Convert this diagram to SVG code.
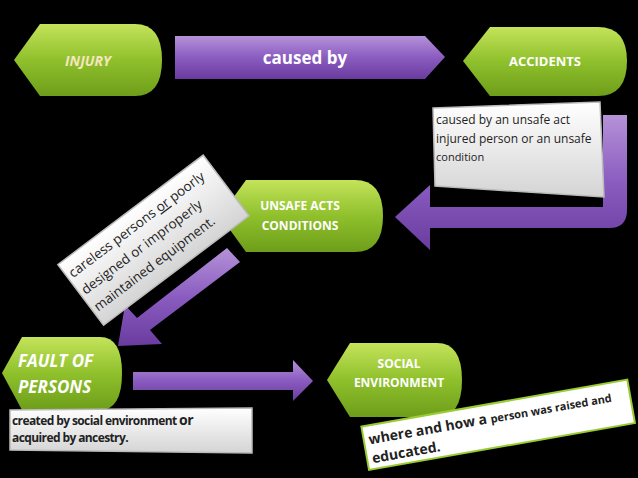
<svg xmlns="http://www.w3.org/2000/svg" width="638" height="478" viewBox="0 0 638 478">
<defs>
<linearGradient id="g" x1="0" y1="0" x2="0" y2="1"><stop offset="0" stop-color="#c4e35a"/><stop offset="0.5" stop-color="#8fc02c"/><stop offset="1" stop-color="#6e9e1a"/></linearGradient>
<linearGradient id="p" x1="0" y1="0" x2="0" y2="1"><stop offset="0" stop-color="#b592d8"/><stop offset="0.5" stop-color="#8a5cc0"/><stop offset="1" stop-color="#6a3c9f"/></linearGradient>
<linearGradient id="w" x1="0" y1="0" x2="0" y2="1"><stop offset="0" stop-color="#ffffff"/><stop offset="1" stop-color="#d4d4d4"/></linearGradient>
</defs>
<style>
.n{fill:url(#g)}
.a{fill:url(#p)}
.b{fill:url(#w);stroke:#bbb;stroke-width:1.5}
.t{font-family:"Open Sans","Liberation Sans",sans-serif;fill:#fff;font-weight:bold}
.k{font-family:"Open Sans","Liberation Sans",sans-serif;fill:#222}
</style>
<rect width="638" height="478" fill="#000"/>
<g id="connectors">
<polygon class="a" points="175,36 425,36 445,57 425,79 175,79"/>
<path class="a" d="M603,115 H627 V210 Q627,228 609,228 H430 V250 L395,217 L430,185 V207 H603 Z"/>
<polygon class="a" points="227,248 240,262 150,330 162,344 118,346 125,305 137,318"/>
<polygon class="a" points="133,372 293,372 293,360 313,381 293,401 293,390 133,390"/>
</g>
<g id="injury"><path class="n" d="M14,60 L40,24 H135 Q162,24 162,60 Q162,96 135,96 H40 Z"/><text class="t" x="88" y="66" font-size="14" font-style="italic" text-anchor="middle" style="fill:#f5e6c0">INJURY</text></g>
<text class="t" x="305" y="64" font-size="17" text-anchor="middle">caused by</text>
<g id="accidents"><path class="n" d="M463,61 L490,27 H598 Q627,27 627,61 Q627,96 598,96 H490 Z"/><text class="t" x="545" y="66" font-size="13" text-anchor="middle">ACCIDENTS</text></g>
<g id="note1"><polygon class="b" points="433,108 600,102 604,197 435,186"/>
<text class="k" font-size="12"><tspan x="436" y="124">caused by an unsafe act</tspan><tspan x="436" y="143">injured person or an unsafe</tspan><tspan x="436" y="161" font-size="11">condition</tspan></text></g>
<g id="unsafe"><path class="n" d="M220,216 L246,180 H355 Q383,180 383,216 Q383,252 355,252 H246 Z"/><text class="t" x="300" y="210" font-size="12" text-anchor="middle">UNSAFE ACTS</text><text class="t" x="300" y="230" font-size="12" text-anchor="middle">CONDITIONS</text></g>
<g id="note2" transform="rotate(-37 152 240)"><rect class="b" x="62" y="203" width="182" height="76"/>
<text class="k" font-size="13.5"><tspan x="66" y="223">careless persons <tspan text-decoration="underline">or</tspan> poorly</tspan><tspan x="66" y="244">designed or improperly</tspan><tspan x="66" y="265">maintained equipment.</tspan></text></g>
<g id="fault"><path class="n" d="M2,373 L22,337 H100 Q122,337 122,373 Q122,410 100,410 H22 Z"/><text class="t" x="18" y="367" font-size="17" font-style="italic">FAULT OF</text><text class="t" x="18" y="393" font-size="17" font-style="italic">PERSONS</text></g>
<g id="note3"><polygon class="b" points="10,410 252,408 252,453 10,450"/>
<text class="k" font-size="12" font-weight="bold" style="letter-spacing:-0.6px"><tspan x="12" y="425">created by social environment <tspan font-size="14">or</tspan></tspan><tspan x="12" y="442">acquired by ancestry.</tspan></text></g>
<g id="social"><path class="n" d="M327,380 L350,343 H437 Q462,343 462,380 Q462,417 437,417 H350 Z"/><text class="t" x="399" y="368" font-size="12" text-anchor="middle">SOCIAL</text><text class="t" x="399" y="387" font-size="12" text-anchor="middle">ENVIRONMENT</text></g>
<g id="note4" transform="rotate(-10 497 424)"><rect x="363" y="403" width="270" height="44" fill="#fff" stroke="#9c3" stroke-width="2"/>
<text class="k" font-size="14" font-weight="bold" fill="#111"><tspan x="368" y="422">where and how a <tspan font-size="11">person was raised and</tspan></tspan><tspan x="368" y="441">educated.</tspan></text></g>
</svg>
